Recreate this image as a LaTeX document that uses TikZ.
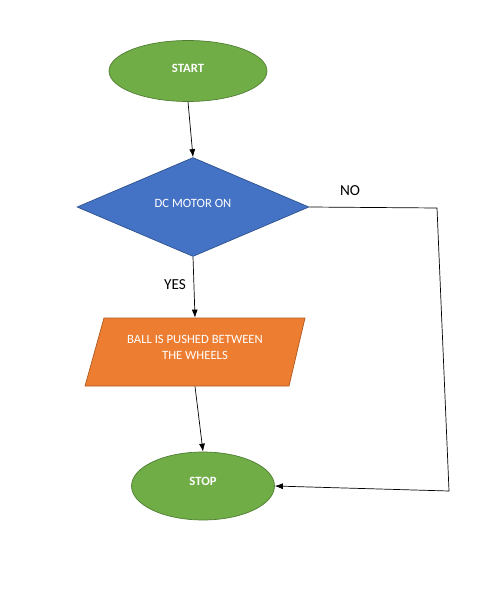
\documentclass[tikz,border=0pt]{standalone}
\usepackage{fontspec}
\setmainfont{Carlito}
\usetikzlibrary{shapes.geometric,arrows.meta}
\definecolor{ofgreen}{HTML}{70AD47}
\definecolor{ofgreenline}{HTML}{507E32}
\definecolor{ofblue}{HTML}{4472C4}
\definecolor{ofblueline}{HTML}{2F528F}
\definecolor{oforange}{HTML}{ED7D31}
\definecolor{oforangeline}{HTML}{AE5A21}
\begin{document}
\begin{tikzpicture}[x=0.02cm,y=-0.02cm,
  terminal/.style={ellipse,fill=ofgreen,draw=ofgreenline,text=white,font=\fontsize{7.2}{9}\selectfont\bfseries,inner sep=0pt},
  decision/.style={diamond,fill=ofblue,draw=ofblueline,text=white,font=\fontsize{7.2}{9}\selectfont,inner sep=0pt,text depth=4pt,minimum width=4.64cm,minimum height=1.98cm},
  io/.style={text=white,font=\fontsize{7.2}{9.2}\selectfont,align=center,inner sep=0pt,text depth=5pt,minimum width=3.8cm,minimum height=1.36cm},
  flow/.style={-{Latex[length=1.6mm,width=1.2mm]},thin},
  label/.style={font=\fontsize{8.7}{10}\selectfont}]
\useasboundingbox (0,0) rectangle (500,597);
\coordinate (P0) at (85,386);
\coordinate (P1) at (104,318);
\coordinate (P2) at (305,318);
\coordinate (P3) at (289,386);
\draw [fill=oforange,draw=oforangeline] (P0) -- (P1) -- (P2) -- (P3) -- cycle;
\node [terminal,text depth=3.5pt,minimum width=3.16cm,minimum height=1.22cm] (start) at (188,71) {START};
\node [decision] (dc) at (193,207) {DC MOTOR ON};
\node [io] (ball) at (195,352) {BALL IS PUSHED BETWEEN\\THE WHEELS};
\node [terminal,text depth=5.5pt,minimum width=2.86cm,minimum height=1.36cm] (stop) at (203,486) {STOP};
\coordinate (c1) at (437,208);
\coordinate (c2) at (449,491);
\draw [flow] (start.south) -- (dc.north);
\draw [flow] (dc.south) -- (ball.north);
\draw [flow] (ball.south) -- (stop.north);
\draw [flow] (dc.east) -- (c1) -- (c2) -- (stop.east);
\node [label] (no) at (350,191) {NO};
\node [label] (yes) at (175,285) {YES};
\end{tikzpicture}
\end{document}
